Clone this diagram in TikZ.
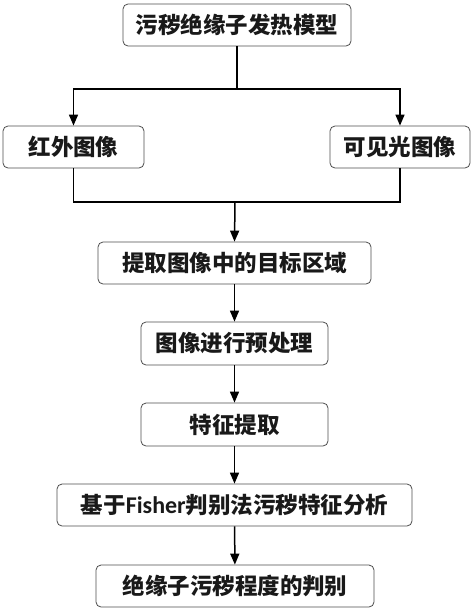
\documentclass[tikz,border=0pt]{standalone}
\usepackage{fontspec}
\setmainfont{Carlito}
\newfontfamily\cjk{Noto Sans CJK SC}
\usetikzlibrary{arrows.meta}
\begin{document}
\begin{tikzpicture}[x=1pt,y=-1pt,
  box/.style={draw=black!70, line width=0.8pt, rounded corners=5pt, minimum height=42pt, inner sep=0pt, font=\fontsize{22.5}{26}\selectfont\bfseries\cjk, text=black!90},
  conn/.style={line width=1.5pt, black},
  arr/.style={conn, -{Triangle[length=11pt,width=9pt]}}]
\useasboundingbox (0,0) rectangle (474,611);
\node[box, minimum width=228pt] (top) at (237,25) {污秽绝缘子发热模型};
\node[box, minimum width=141pt] (left) at (73.5,147) {红外图像};
\node[box, minimum width=140pt] (right) at (400,147) {可见光图像};
\node[box, minimum width=273pt] (b3) at (234.5,263) {提取图像中的目标区域};
\node[box, minimum width=187pt, minimum height=43pt] (b4) at (234.5,343.5) {图像进行预处理};
\node[box, minimum width=187pt, minimum height=43pt] (b5) at (234.5,424.5) {特征提取};
\node[box, minimum width=355pt] (b6) at (234.5,505) {基于{\fontspec{Carlito}\fontsize{24}{26}\selectfont Fisher}判别法污秽特征分析};
\node[box, minimum width=278pt] (b7) at (235,586) {绝缘子污秽程度的判别};
\coordinate (j1) at (237,89);
\coordinate (j2) at (235,202);
\draw[conn] (top.south) -- (j1);
\draw[arr] (j1) -| (left.north);
\draw[arr] (j1) -| (right.north);
\draw[conn] (left.south) -- (left.south |- j2) -- (right.south |- j2) -- (right.south);
\draw[arr] (j2) -- (b3.north);
\draw[arr] (b3) -- (b4);
\draw[arr] (b4) -- (b5);
\draw[arr] (b5) -- (b6);
\draw[arr] (b6) -- (b7);
\end{tikzpicture}
\end{document}
